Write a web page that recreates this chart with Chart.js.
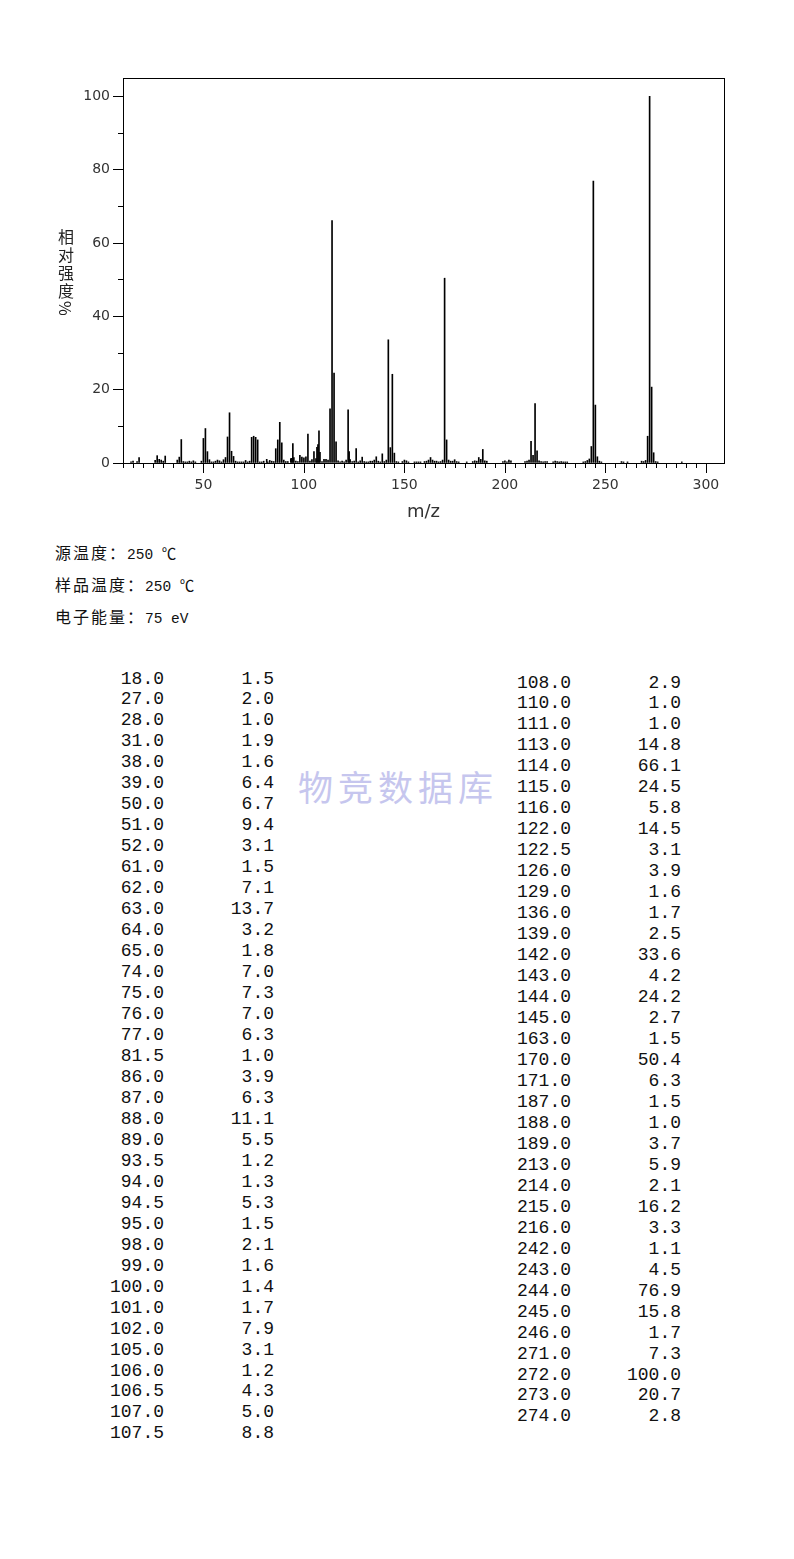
<!DOCTYPE html>
<html>
<head>
<meta charset="utf-8">
<script src="https://cdn.jsdelivr.net/npm/chart.js@4/dist/chart.umd.min.js"></script>
<style>
  body { margin: 0; background: #fff; }
  #page { position: relative; width: 794px; height: 1559px; overflow: hidden; }
  #chartBox { position: absolute; left: 0; top: 0; width: 794px; height: 530px; }
  #yTitle { position: absolute; left: 54px; top: 229px; writing-mode: vertical-rl; font: 16px "Noto Sans CJK SC", sans-serif; letter-spacing: 2px; color: #222; }
  .info { position: absolute; left: 55px; line-height: 20px; color: #111; white-space: pre; }
  .info .cjk { font: 16px "Noto Sans CJK SC", sans-serif; letter-spacing: 2px; }
  .info .num { font: 14.5px "Liberation Mono", "Noto Sans CJK SC", monospace; }
  .cell { position: absolute; font: 18px "Liberation Mono", monospace; line-height: 21px; text-align: right; color: #111; white-space: pre; }
  #mark { position: absolute; left: 298px; top: 760px; font: 35px "Noto Sans CJK SC", sans-serif; letter-spacing: 5px; color: #c6c6ee; }
</style>
</head>
<body>
<div id="page">
  <div id="table"></div>
  <div id="chartBox"><canvas id="msChart" width="794" height="530"></canvas></div>
  <div id="yTitle">相对强度%</div>
  <div class="info" style="top:540px"><span class="cjk">源温度：</span><span class="num">250 ℃</span></div>
  <div class="info" style="top:572px"><span class="cjk">样品温度：</span><span class="num">250 ℃</span></div>
  <div class="info" style="top:604px"><span class="cjk">电子能量：</span><span class="num">75 eV</span></div>
  <div id="mark">物竞数据库</div>
</div>
<script>
// Picos listados na tabela (m/z, intensidade relativa %)
const peakMz = [18, 27, 28, 31, 38, 39, 50, 51, 52, 61, 62, 63, 64, 65, 74, 75, 76, 77, 81.5, 86, 87, 88, 89, 93.5, 94, 94.5, 95, 98, 99, 100, 101, 102, 105, 106, 106.5, 107, 107.5,
  108, 110, 111, 113, 114, 115, 116, 122, 122.5, 126, 129, 136, 139, 142, 143, 144, 145, 163, 170, 171, 187, 188, 189, 213, 214, 215, 216, 242, 243, 244, 245, 246, 271, 272, 273, 274];
const peakIntensity = [1.5, 2.0, 1.0, 1.9, 1.6, 6.4, 6.7, 9.4, 3.1, 1.5, 7.1, 13.7, 3.2, 1.8, 7.0, 7.3, 7.0, 6.3, 1.0, 3.9, 6.3, 11.1, 5.5, 1.2, 1.3, 5.3, 1.5, 2.1, 1.6, 1.4, 1.7, 7.9, 3.1, 1.2, 4.3, 5.0, 8.8,
  2.9, 1.0, 1.0, 14.8, 66.1, 24.5, 5.8, 14.5, 3.1, 3.9, 1.6, 1.7, 2.5, 33.6, 4.2, 24.2, 2.7, 1.5, 50.4, 6.3, 1.5, 1.0, 3.7, 5.9, 2.1, 16.2, 3.3, 1.1, 4.5, 76.9, 15.8, 1.7, 7.3, 100.0, 20.7, 2.8];

// Picos pequenos (<1%), valores estimados
const noiseMz = [14, 15, 17, 26, 29, 30, 37, 40, 41, 42, 43, 44, 45, 46, 49, 53, 54, 55, 56, 57, 58, 59, 60, 66, 67, 68, 69, 70, 71, 72, 73, 78, 79, 80, 82, 83, 84, 85,
  90, 91, 92, 96, 97, 103, 104, 109, 112, 117, 118, 119, 120, 121, 123, 124, 125, 127, 128, 130, 131, 132, 133, 134, 135, 137, 138, 140, 141, 146, 147, 149, 150, 151, 152,
  155, 156, 157, 158, 160, 161, 162, 164, 165, 166, 167, 168, 169, 172, 173, 174, 175, 176, 177, 181, 184, 185, 186, 190, 191, 199, 200, 201, 202, 203, 210, 211, 212,
  217, 218, 219, 220, 221, 224, 225, 226, 227, 228, 229, 230, 231, 239, 240, 241, 247, 248, 258, 259, 261, 268, 269, 270, 275, 276, 288];
const noiseIntensity = [0.3, 0.5, 0.4, 0.7, 0.8, 0.5, 0.8, 0.4, 0.3, 0.3, 0.5, 0.3, 0.6, 0.3, 0.5, 0.9, 0.3, 0.3, 0.5, 0.8, 0.6, 0.3, 0.9, 0.5, 0.3, 0.3, 0.3, 0.3, 0.7, 0.3, 0.5, 0.3, 0.3, 0.5, 0.3, 0.7, 0.5, 0.4,
  0.8, 0.4, 0.4, 0.5, 0.4, 0.5, 0.9, 0.4, 0.8, 0.6, 0.3, 0.5, 0.3, 0.8, 0.9, 0.4, 0.5, 0.3, 0.6, 0.4, 0.3, 0.3, 0.5, 0.5, 0.8, 0.5, 0.3, 0.4, 0.8, 0.4, 0.3, 0.4, 0.8, 0.6, 0.3,
  0.3, 0.3, 0.3, 0.3, 0.4, 0.5, 0.8, 0.8, 0.5, 0.5, 0.3, 0.4, 0.8, 0.8, 0.5, 0.5, 0.9, 0.4, 0.3, 0.3, 0.4, 0.6, 0.5, 0.6, 0.5, 0.4, 0.6, 0.3, 0.8, 0.6, 0.4, 0.5, 0.8,
  0.6, 0.4, 0.3, 0.4, 0.4, 0.3, 0.5, 0.4, 0.3, 0.4, 0.3, 0.3, 0.3, 0.3, 0.4, 0.7, 0.5, 0.3, 0.4, 0.3, 0.3, 0.5, 0.4, 0.7, 0.4, 0.3, 0.3];

const xTicksMajor = [50, 100, 150, 200, 250, 300];
const xTickStart = 10;
const xTickStep = 5;
const yTicksMajor = [0, 20, 40, 60, 80, 100];

const tickFont = { family: 'DejaVu Sans', size: 14 };
const tickColor = '#333';

// tabela de picos em duas colunas
const table = document.getElementById('table');
const splitAt = 37;
function addCell(text, right, top) {
  const d = document.createElement('div');
  d.className = 'cell';
  d.textContent = text;
  d.style.left = (right - 120) + 'px';
  d.style.width = '120px';
  d.style.top = top + 'px';
  table.appendChild(d);
}
peakMz.forEach((mz, i) => {
  const left = i < splitAt;
  const row = left ? i : i - splitAt;
  const top = (left ? 668.5 : 672.5) + row * 20.97;
  addCell(mz.toFixed(1), left ? 164 : 571, top);
  addCell(peakIntensity[i].toFixed(1), left ? 274 : 681, top);
});

// moldura da área do gráfico + marcas do eixo x (menores a cada 5, maiores a cada 50)
const frame = {
  id: 'frame',
  afterDraw(chart) {
    const { ctx, chartArea: a } = chart;
    const sx = chart.scales.x;
    ctx.save();
    ctx.strokeStyle = '#000';
    ctx.lineWidth = 1;
    ctx.strokeRect(a.left + 0.5, a.top + 0.5, a.right - a.left, a.bottom - a.top);
    ctx.beginPath();
    for (let v = xTickStart; v <= 300; v += xTickStep) {
      const px = Math.round(sx.getPixelForValue(v)) + 0.5;
      const len = xTicksMajor.includes(v) ? 10 : 5;
      ctx.moveTo(px, a.bottom);
      ctx.lineTo(px, a.bottom + len);
    }
    ctx.stroke();
    ctx.restore();
  }
};

const barStyle = { backgroundColor: '#000', barThickness: 1, grouped: false, xAxisID: 'x', yAxisID: 'y' };

new Chart(document.getElementById('msChart'), {
  type: 'bar',
  data: {
    datasets: [
      { ...barStyle, data: noiseMz.map((x, i) => ({ x, y: noiseIntensity[i] })) },
      { ...barStyle, data: peakMz.map((x, i) => ({ x, y: peakIntensity[i] })) }
    ]
  },
  options: {
    responsive: false,
    animation: false,
    devicePixelRatio: 1,
    layout: { padding: { top: 78, right: 70, left: 0, bottom: 0 } },
    plugins: { legend: { display: false }, tooltip: { enabled: false } },
    scales: {
      x: {
        type: 'linear', position: 'bottom', min: 10, max: 309, offset: false,
        grid: { display: false, offset: false },
        border: { display: false },
        ticks: { display: false },
        afterFit: s => { s.height = 0; }
      },
      x2: {
        type: 'linear', position: 'bottom', min: 10, max: 309, offset: false,
        grid: { display: false },
        border: { display: false },
        ticks: { autoSkip: false, maxRotation: 0, padding: 6, font: tickFont, color: tickColor },
        afterBuildTicks: s => { s.ticks = xTicksMajor.map(v => ({ value: v })); },
        title: { display: true, text: 'm/z', font: { family: 'DejaVu Sans', size: 18 }, color: '#333', padding: { top: 0, bottom: 7 } },
        afterFit: s => { s.height = 67; }
      },
      y: {
        type: 'linear', position: 'left', min: 0, max: 105,
        grid: { drawOnChartArea: false, tickLength: 5, color: '#000' },
        border: { display: true, color: '#000' },
        ticks: { display: false, stepSize: 10, autoSkip: false },
        afterBuildTicks: s => { s.ticks = s.ticks.filter(t => t.value % 10 === 0 && t.value <= 100); },
        afterFit: s => { s.width = 0; }
      },
      y2: {
        type: 'linear', position: 'left', min: 0, max: 105,
        grid: { drawOnChartArea: false, tickLength: 10, color: '#000' },
        border: { display: false },
        ticks: { stepSize: 20, autoSkip: false, padding: 3, font: tickFont, color: tickColor },
        afterBuildTicks: s => { s.ticks = yTicksMajor.map(v => ({ value: v })); },
        afterFit: s => { s.width = 123; }
      }
    }
  },
  plugins: [frame]
});
</script>
</body>
</html>
